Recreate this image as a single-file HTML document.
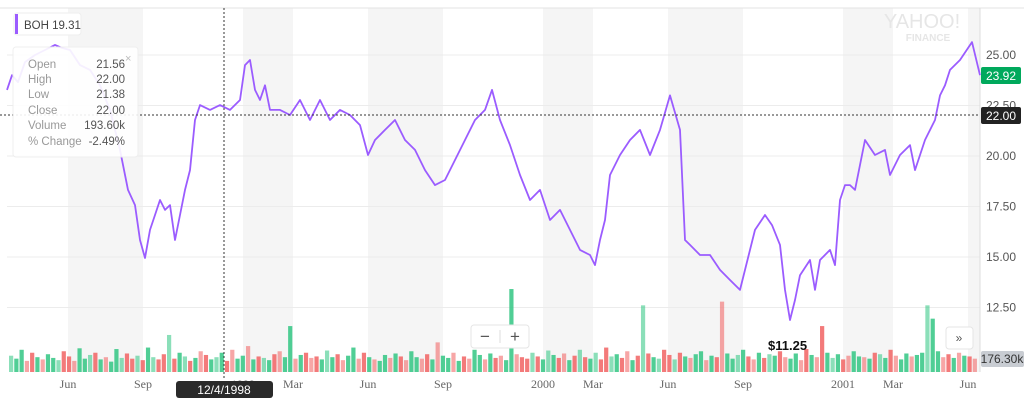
<!DOCTYPE html>
<html><head><meta charset="utf-8">
<style>
body{margin:0;background:#fff;font-family:"Liberation Sans",sans-serif;}
svg{display:block}
.tick{font-size:12px;fill:#555;font-family:"Liberation Sans",sans-serif}
.mon{font-size:12px;fill:#666;font-family:"Liberation Serif",serif}
</style></head><body>
<svg id="chart" width="1024" height="401">
<g id="bands"></g><g id="grid"></g><g id="vol"></g><g id="line"></g><g id="over"></g>
</svg>
<script>
const months=[2.56,2.76,3.0,3.28,3.68,4.08,4.48,4.76,5.08,5.48,5.88,6.28,6.68,7.08,7.4,7.68,7.88,8.08,8.28,8.48,8.68,8.88,9.08,9.28,9.48,9.68,9.88,10.08,10.28,10.68,11.08,11.48,11.88,12.08,12.28,12.48,12.68,12.88,13.08,13.48,13.88,14.28,14.68,15.08,15.48,15.88,16.28,16.68,17.0,17.28,17.68,18.08,18.48,18.88,19.28,19.68,20.08,20.48,20.88,21.28,21.68,21.96,22.28,22.68,23.08,23.48,23.88,24.28,24.68,25.08,25.48,25.88,26.08,26.28,26.48,26.68,27.08,27.48,27.88,28.28,28.68,29.08,29.48,29.68,29.88,30.28,30.68,31.08,31.48,31.88,32.08,32.48,32.88,33.16,33.48,33.68,33.88,34.08,34.28,34.68,34.88,35.08,35.48,35.68,35.88,36.08,36.28,36.48,36.88,37.28,37.68,37.88,38.28,38.68,38.88,39.28,39.68,39.88,40.08,40.28,40.68,41.16,41.48];
const prices=[23.27,24.0,23.66,24.65,25.0,25.25,25.5,25.35,25.25,24.5,24.26,23.5,22.28,20.3,18.32,17.57,15.84,14.95,16.34,17.08,17.82,17.33,17.57,15.84,17.08,18.32,19.3,21.78,22.52,22.28,22.52,22.28,22.77,24.5,24.75,23.27,22.77,23.5,22.28,22.28,22.03,22.77,21.78,22.77,21.78,22.28,22.03,21.53,20.05,20.79,21.29,21.78,20.79,20.3,19.3,18.56,18.81,19.8,20.79,21.78,22.28,23.27,21.78,20.54,19.06,17.82,18.32,16.83,17.33,16.34,15.35,15.1,14.6,15.84,16.83,19.06,20.05,20.79,21.29,20.05,21.29,23.0,21.29,15.84,15.6,15.1,15.1,14.36,13.86,13.37,14.36,16.34,17.08,16.58,15.6,13.37,11.88,12.87,14.1,14.85,13.37,14.85,15.35,14.6,17.82,18.56,18.56,18.32,20.79,20.05,20.3,19.06,20.05,20.54,19.3,20.79,21.78,23.0,23.5,24.26,24.75,25.64,24.0];
const yTicks=[12.5,15,17.5,20,22.5,25];
const monthLabels=["Jun","Sep","1999","Mar","Jun","Sep","2000","Mar","Jun","Sep","2001","Mar","Jun"];
const monthPos=[5,8,12,14,17,20,24,26,29,32,36,38,41];
const volumes=[220,180,300,150,260,200,170,240,190,160,280,210,150,320,180,230,260,170,200,140,310,190,250,180,220,160,330,200,170,240,500,180,260,210,150,190,280,230,170,200,260,150,300,180,220,350,170,210,190,160,240,280,200,620,180,230,260,190,210,170,290,200,240,160,220,330,180,260,200,170,150,230,190,250,210,160,280,200,180,240,170,400,220,190,260,150,210,180,300,230,170,250,190,220,160,1120,240,200,180,260,210,170,290,230,190,250,160,220,300,200,180,260,170,330,210,240,190,280,160,220,900,250,200,180,300,230,170,260,210,190,240,280,160,220,200,950,250,180,230,300,210,170,260,190,240,220,280,200,180,250,160,310,230,200,620,260,190,240,170,220,280,210,200,180,260,240,190,300,220,170,250,210,230,260,900,720,280,200,240,190,260,220,210,180];
const volDir="gggrrgrgggrrrgggrgrgggrrgrggrrgrggrgrrgggrrggrgrggrrggrgrrrgggrrggrrgrggrgrrggrrgrggrgrrggrgrrggrrrgrgggrrgrgrggrrggrrgrgrggrrgrgrggrgrrggggrrgrggrrggrrgrrgggrrggrgrggrrggrgggggrrgrgrrgg";

const NS="http://www.w3.org/2000/svg";
const X0=7,X1=980;
function xm(m){return 68+(m-5)*25;}
function yp(v){return 55+(25-v)*20.2;}
function yv(k){return 372-k/13.5;}
function mk(tag,attrs,parent){const e=document.createElementNS(NS,tag);for(const k in attrs)e.setAttribute(k,attrs[k]);parent.appendChild(e);return e;}
const bands=document.getElementById('bands'),grid=document.getElementById('grid'),vol=document.getElementById('vol'),line=document.getElementById('line');
const bandPairs=[[5,8],[12,14],[17,20],[24,26],[29,32],[36,38],[41,41.5]];
bandPairs.forEach(b=>{const r=mk('rect',{x:xm(b[0]),y:8,width:Math.min(xm(b[1]),X1)-xm(b[0]),height:364,fill:'#f5f5f5'},bands);

});
mk('line',{x1:0,x2:1024,y1:8,y2:8,stroke:'#e3e3e3'},grid);
yTicks.forEach(v=>{const l=mk('line',{x1:X0,x2:X1,y1:yp(v),y2:yp(v),stroke:'#ececec'},grid);


const t=mk('text',{x:986,y:yp(v)+4,class:'tick'},grid);t.textContent=v.toFixed(2);

});
mk('line',{x1:X1,x2:X1,y1:8,y2:372,stroke:'#ddd'},grid);
monthLabels.forEach((s,i)=>{const t=mk('text',{x:xm(monthPos[i]),y:388,'text-anchor':'middle',class:'mon'},grid);t.textContent=s;

});
const n=volumes.length;const step=(X1-X0-4)/n;
volumes.forEach((v,i)=>{const x=X0+2+i*step;const up=volDir[i%volDir.length]==='g';
const r=mk('rect',{x:x,y:yv(v),width:step*0.8,height:372-yv(v),fill:up?'#3dc98a':'#f26b6b',opacity:(i%3===0)?0.6:0.9},vol);

});
const d=months.map((m,i)=>(i?'L':'M')+xm(m).toFixed(1)+','+yp(prices[i]).toFixed(1)).join(' ');
const p=mk('path',{d:d,fill:'none',stroke:'#9b5cff','stroke-width':1.8,'stroke-linejoin':'round'},line);


</script>
<svg width="1024" height="401" style="position:absolute;left:0;top:0">
<line x1="224" y1="8" x2="224" y2="380" stroke="#333" stroke-dasharray="2,2"/>
<line x1="0" y1="115" x2="980" y2="115" stroke="#333" stroke-dasharray="2,2"/>
<rect x="13" y="47" width="125" height="110" rx="3" fill="#fff" opacity="0.9" stroke="#eee"/>
<g font-family="Liberation Sans" font-size="11.5">
<text x="28" y="68" fill="#999">Open</text><text x="125" y="68" fill="#555" text-anchor="end">21.56</text>
<text x="28" y="83" fill="#999">High</text><text x="125" y="83" fill="#555" text-anchor="end">22.00</text>
<text x="28" y="98" fill="#999">Low</text><text x="125" y="98" fill="#555" text-anchor="end">21.38</text>
<text x="28" y="114" fill="#999">Close</text><text x="125" y="114" fill="#555" text-anchor="end">22.00</text>
<text x="28" y="129" fill="#999">Volume</text><text x="125" y="129" fill="#555" text-anchor="end">193.60k</text>
<text x="28" y="145" fill="#999">% Change</text><text x="125" y="145" fill="#555" text-anchor="end">-2.49%</text>
</g>
<text x="125" y="62" fill="#bbb" font-size="11" font-family="Liberation Sans">×</text>
<rect x="14" y="13" width="67" height="22" rx="3" fill="#fff" stroke="#eee"/>
<rect x="15" y="14" width="3" height="20" fill="#9b5cff"/>
<text x="24" y="29" font-size="11.5" font-family="Liberation Sans" fill="#444">BOH  19.31</text>
<text x="922" y="28" font-size="20" font-family="Liberation Sans" fill="#e6e6e6" text-anchor="middle">YAHOO!</text>
<text x="928" y="41" font-size="10" font-weight="bold" font-family="Liberation Sans" fill="#e6e6e6" text-anchor="middle">FINANCE</text>
<rect x="981" y="67" width="40" height="17" rx="2" fill="#00a95c"/>
<text x="1001" y="80" font-size="12" font-family="Liberation Sans" fill="#fff" text-anchor="middle">23.92</text>
<rect x="981" y="107" width="40" height="17" rx="2" fill="#222"/>
<text x="1001" y="120" font-size="12" font-family="Liberation Sans" fill="#fff" text-anchor="middle">22.00</text>
<rect x="981" y="351" width="43" height="16" rx="2" fill="#c8ccd2"/>
<text x="1002" y="363" font-size="12" font-family="Liberation Sans" fill="#333" text-anchor="middle">176.30k</text>
<rect x="176" y="381" width="97" height="17" rx="3" fill="#2a2a2a"/>
<text x="224" y="394" font-size="12" font-family="Liberation Sans" fill="#fff" text-anchor="middle">12/4/1998</text>
<rect x="471" y="325" width="58" height="23" rx="3" fill="#fff" stroke="#e5e5e5"/>
<text x="485" y="342" font-size="17" fill="#555" text-anchor="middle" font-family="Liberation Sans">−</text>
<line x1="500" y1="330" x2="500" y2="343" stroke="#ddd"/>
<text x="515" y="342" font-size="17" fill="#555" text-anchor="middle" font-family="Liberation Sans">+</text>
<rect x="946" y="327" width="27" height="22" rx="3" fill="#fff" stroke="#e5e5e5"/>
<text x="959" y="342" font-size="12" fill="#555" text-anchor="middle" font-family="Liberation Sans">»</text>
<text x="768" y="350" font-size="13" font-weight="bold" fill="#111" font-family="Liberation Sans">$11.25</text>
</svg>
</body></html>
